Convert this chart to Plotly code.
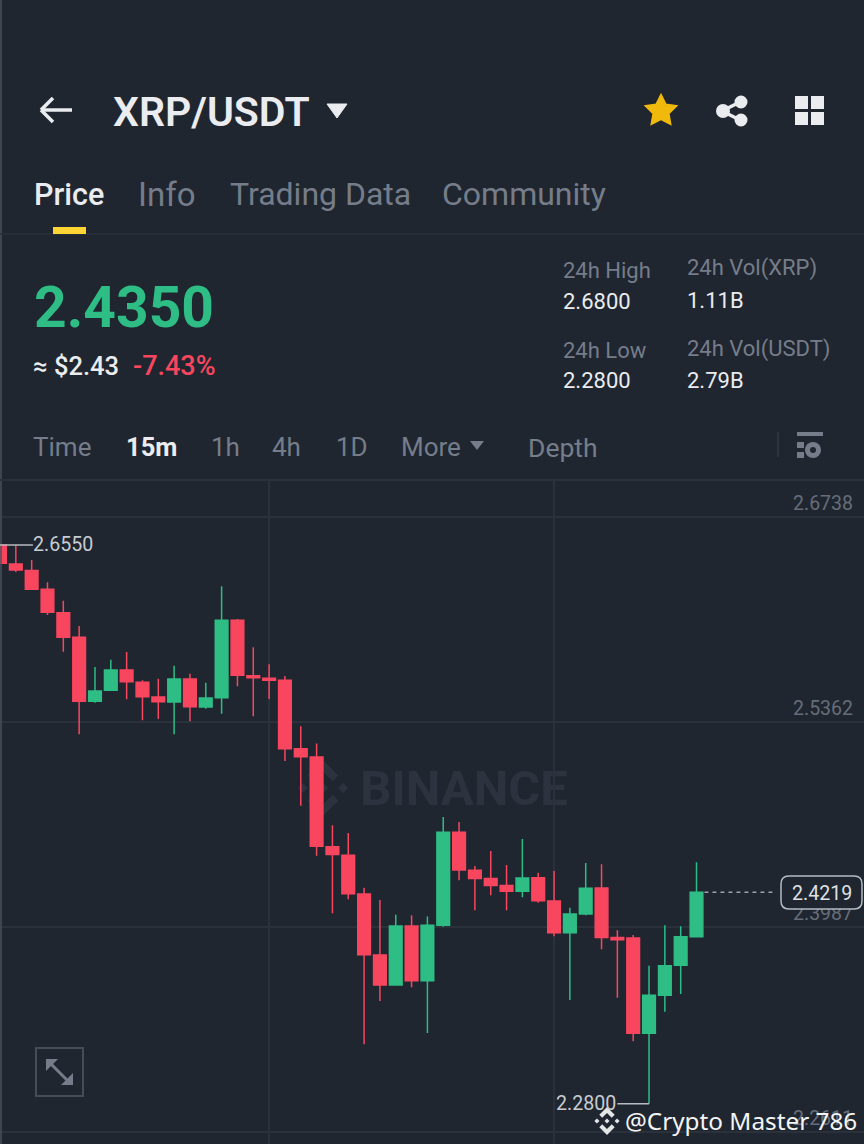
import numpy as np
import plotly.graph_objects as go

# Values
price_open = [2.6550, 2.6423, 2.6378, 2.6253, 2.6096, 2.5931, 2.5501, 2.5575, 2.5711, 2.5629,
              2.5530, 2.5496, 2.5651, 2.5463, 2.5525, 2.6045, 2.5673, 2.5655, 2.5642, 2.5183,
              2.5127, 2.4525, 2.4468, 2.4208, 2.3798, 2.3597, 2.3993, 2.3626, 2.3998, 2.4622,
              2.4367, 2.4311, 2.4264, 2.4226, 2.4317, 2.4161, 2.3948, 2.4074, 2.4248, 2.3915,
              2.3912, 2.3273, 2.3528, 2.3729, 2.3921]
price_high = [2.6550, 2.6550, 2.6449, 2.6300, 2.6176, 2.6006, 2.5731, 2.5780, 2.5832, 2.5642,
              2.5653, 2.5740, 2.5686, 2.5626, 2.6273, 2.6053, 2.5864, 2.5749, 2.5671, 2.5333,
              2.5217, 2.4669, 2.4617, 2.4250, 2.4168, 2.4069, 2.4065, 2.4056, 2.4725, 2.4691,
              2.4396, 2.4496, 2.4402, 2.4577, 2.4351, 2.4362, 2.4116, 2.4416, 2.4407, 2.3964,
              2.3933, 2.3727, 2.3998, 2.3991, 2.4421]
price_low = [2.6423, 2.6369, 2.6253, 2.6080, 2.5834, 2.5280, 2.5492, 2.5575, 2.5515, 2.5374,
             2.5382, 2.5280, 2.5367, 2.5451, 2.5418, 2.5602, 2.5400, 2.5517, 2.5100, 2.4800,
             2.4465, 2.4078, 2.4172, 2.3199, 2.3490, 2.3597, 2.3582, 2.3275, 2.3988, 2.4300,
             2.4098, 2.4199, 2.4098, 2.4186, 2.4149, 2.3924, 2.3496, 2.4065, 2.3837, 2.3512,
             2.3219, 2.2800, 2.3418, 2.3537, 2.3915]
price_close = [2.6427, 2.6382, 2.6253, 2.6098, 2.5931, 2.5501, 2.5570, 2.5711, 2.5633, 2.5532,
               2.5498, 2.5651, 2.5465, 2.5523, 2.6045, 2.5676, 2.5659, 2.5642, 2.5183, 2.5129,
               2.4528, 2.4472, 2.4210, 2.3800, 2.3597, 2.3993, 2.3626, 2.3998, 2.4622, 2.4369,
               2.4311, 2.4264, 2.4226, 2.4315, 2.4163, 2.3948, 2.4074, 2.4246, 2.3915, 2.3901,
               2.3273, 2.3528, 2.3727, 2.3921, 2.4219]
candle_index = list(range(len(price_open)))

grid_prices = [2.6738, 2.5362, 2.3987, 2.2611]
grid_labels = ["2.6738", "2.5362", "2.3987", "2.2611"]
grid_candles = [17, 35]
last_price = 2.4219
period_high = 2.6550
period_low = 2.2800

BG = "#1f2630"
GRID = "#2b313b"
GREEN = "#2ebd85"
RED = "#f9465f"
WHITE = "#eaecef"
GRAY = "#767d8a"
FONT = "Roboto"


def label(x, y, text, size, color=GRAY, weight=400, anchor="left", family=FONT):
    return dict(x=x, y=y, xref="x", yref="y", text=text, showarrow=False, xanchor=anchor,
                yanchor="middle", borderpad=0,
                font=dict(size=size, color=color, family=family, weight=weight))


def poly(points, color, layer="above", line_width=0):
    path = "M " + " L ".join(f"{px:.2f},{py:.2f}" for px, py in points) + " Z"
    return dict(type="path", path=path, xref="x", yref="y", fillcolor=color, layer=layer,
                line=dict(color=color, width=line_width))


def seg(x0, y0, x1, y1, color, width=1.5, dash="solid"):
    return dict(type="line", x0=x0, y0=y0, x1=x1, y1=y1, xref="x", yref="y",
                line=dict(color=color, width=width, dash=dash))


def rect(x0, y0, x1, y1, color):
    return dict(type="rect", x0=x0, y0=y0, x1=x1, y1=y1, xref="x", yref="y",
                fillcolor=color, line=dict(width=0))


def circle(cx, cy, r, color):
    return dict(type="circle", x0=cx - r, y0=cy - r, x1=cx + r, y1=cy + r, xref="x", yref="y",
                fillcolor=color, line=dict(width=0))


def logo(cx, cy, r, color, layer="above"):
    out = []
    for dx, dy in [(0, 0), (-0.72, 0), (0.72, 0)]:
        s = 0.18 * r
        x, y = cx + dx * r, cy + dy * r
        out.append(poly([(x, y - s), (x + s, y), (x, y + s), (x - s, y)], color, layer))
    for sign in (-1, 1):
        pts = [(0, 1), (0.55, 0.45), (0.34, 0.24), (0, 0.58), (-0.34, 0.24), (-0.55, 0.45)]
        out.append(poly([(cx + a * r, cy + sign * b * r) for a, b in pts], color, layer))
    return out


def star(cx, cy, r):
    pts = []
    for k in range(10):
        ang = -np.pi / 2 + k * np.pi / 5
        rad = r if k % 2 == 0 else r * 0.5
        pts.append((cx + rad * np.cos(ang), cy + rad * np.sin(ang)))
    return poly(pts, "#f0b90b", line_width=2)


fig = go.Figure()

# watermark sits on the pixel axes so the candles draw over it
fig.add_trace(go.Scatter(
    x=[464], y=[793], mode="text", text=["BINANCE"], hoverinfo="skip", showlegend=False,
    textfont=dict(size=49, color="#2c333e", family=FONT, weight=700),
    xaxis="x", yaxis="y"
))

fig.add_trace(go.Candlestick(
    x=candle_index, open=price_open, high=price_high, low=price_low, close=price_close,
    increasing=dict(line=dict(color=GREEN, width=1.5), fillcolor=GREEN),
    decreasing=dict(line=dict(color=RED, width=1.5), fillcolor=RED),
    whiskerwidth=0, showlegend=False, hoverinfo="skip",
    xaxis="x2", yaxis="y2"
))

shapes = [
    seg(1, 0, 1, 1144, "#4a505a", 1.5),
    seg(0, 234, 864, 234, GRID, 1.5),
    seg(0, 480, 864, 480, GRID, 2),
    rect(53, 227, 86, 234, "#fcd535"),
    # back arrow
    seg(41, 110, 72, 110, WHITE, 3.5),
    seg(41, 110, 53, 98, WHITE, 3.5),
    seg(41, 110, 53, 122, WHITE, 3.5),
    poly([(327, 104), (347, 104), (337, 118)], WHITE, line_width=1),
    star(661, 111, 16),
    # share icon
    seg(722, 111, 742, 101, WHITE, 3.5),
    seg(722, 111, 742, 121, WHITE, 3.5),
    circle(723, 111, 7, WHITE),
    circle(741, 102, 6.5, WHITE),
    circle(741, 120, 6.5, WHITE),
    # grid icon
    rect(795, 96, 808, 109, WHITE),
    rect(811, 96, 824, 109, WHITE),
    rect(795, 112, 808, 125, WHITE),
    rect(811, 112, 824, 125, WHITE),
    poly([(470, 441), (484, 441), (477, 450)], GRAY),
    seg(778, 432, 778, 457, "#343a45", 1.5),
    # settings icon
    rect(797, 432, 823, 436, GRAY),
    rect(797, 442, 804, 448, GRAY),
    rect(797, 452, 804, 458, GRAY),
    circle(813, 450, 8, GRAY),
    circle(813, 450, 3, BG),
    # expand button
    dict(type="rect", x0=36, y0=1048, x1=83, y1=1096, xref="x", yref="y",
         line=dict(color="#474d57", width=2)),
    seg(50, 1063, 68, 1081, GRAY, 3),
    poly([(46, 1059), (58, 1059), (46, 1071)], GRAY),
    poly([(73, 1085), (61, 1085), (73, 1073)], GRAY),
    # extreme markers
    dict(type="line", x0=-1, x1=2.08, y0=period_high, y1=period_high, xref="x2", yref="y2",
         line=dict(color="#b7bbc1", width=1.5)),
    dict(type="line", x0=39, x1=41, y0=period_low, y1=period_low, xref="x2", yref="y2",
         line=dict(color="#b7bbc1", width=1.5)),
    # last price
    dict(type="line", x0=44.5, x1=48.8, y0=last_price, y1=last_price, xref="x2", yref="y2",
         line=dict(color="#9a9fa7", width=1.5, dash="4px,4px")),
    dict(type="path", xref="x", yref="y", fillcolor=BG, line=dict(color="#b7bbc1", width=1.5),
         path="M 789,876 L 854,876 Q 862,876 862,884 L 862,901 Q 862,909 854,909 L 789,909 "
              "Q 781,909 781,901 L 781,884 Q 781,876 789,876 Z"),
]
shapes += logo(323, 788, 28, "#2c333e", layer="below")
shapes += logo(607, 1121, 14, "#e4e5e7")

annotations = [
    label(112, 112, "XRP/USDT", 41, WHITE, 600),
    label(33, 194, "Price", 30.5, WHITE, 500),
    label(137, 194, "Info", 33),
    label(229, 194, "Trading Data", 32),
    label(441, 194, "Community", 32),
    label(33, 307, "2.4350", 57, GREEN, 700),
    label(32, 366, "≈ $2.43", 25.5, WHITE, 500),
    label(132, 366, "-7.43%", 27, RED, 500),
    label(562, 270, "24h High", 22),
    label(562, 301, "2.6800", 22, WHITE),
    label(686, 268, "24h Vol(XRP)", 22),
    label(686, 300, "1.11B", 22, WHITE),
    label(562, 350, "24h Low", 22),
    label(562, 380, "2.2800", 22, WHITE),
    label(686, 349, "24h Vol(USDT)", 22),
    label(686, 380, "2.79B", 22, WHITE),
    label(32, 447, "Time", 26),
    label(125, 447, "15m", 25.5, WHITE, 700),
    label(210, 447, "1h", 26),
    label(271, 447, "4h", 26),
    label(335, 447, "1D", 26),
    label(400, 447, "More", 26),
    label(527, 447, "Depth", 26.5),
    label(32, 544, "2.6550", 19.6, "#c8ccd0"),
    label(555, 1103, "2.2800", 19.6, "#c8ccd0"),
    label(791, 893, "2.4219", 19.6, "#dfe1e4"),
    label(624, 1120, "@Crypto Master 786", 24.3, "#f4f4f5", 400, family="Noto Sans"),
]

fig.update_layout(
    width=864, height=1144,
    margin=dict(l=0, r=0, t=0, b=0),
    paper_bgcolor=BG,
    plot_bgcolor="rgba(0,0,0,0)",
    showlegend=False,
    boxgap=0.2,
    boxgroupgap=0,
    shapes=shapes,
    annotations=annotations,
    # full page axes in pixels, for the app chrome
    xaxis=dict(range=[0, 864], domain=[0, 1], visible=False, fixedrange=True),
    yaxis=dict(range=[1144, 0], domain=[0, 1], visible=False, fixedrange=True),
    # chart axes
    xaxis2=dict(range=[0, 54.58], domain=[0, 1], anchor="y2", tickvals=grid_candles,
                showticklabels=False, showgrid=True, gridcolor=GRID, gridwidth=1.5,
                zeroline=False, rangeslider=dict(visible=False), fixedrange=True),
    yaxis2=dict(range=[2.2530, 2.6986], domain=[0, 0.5804], anchor="x2", side="right",
                tickvals=grid_prices, ticktext=grid_labels, ticklabelposition="inside top",
                ticklabelstandoff=8,
                tickfont=dict(size=19.5, color="#666d79", family=FONT), ticks="",
                showgrid=True, gridcolor=GRID, gridwidth=1.5, zeroline=False, fixedrange=True),
)

fig.write_html("out.html", config=dict(displayModeBar=False),
               post_script="document.body.style.margin='0';")
